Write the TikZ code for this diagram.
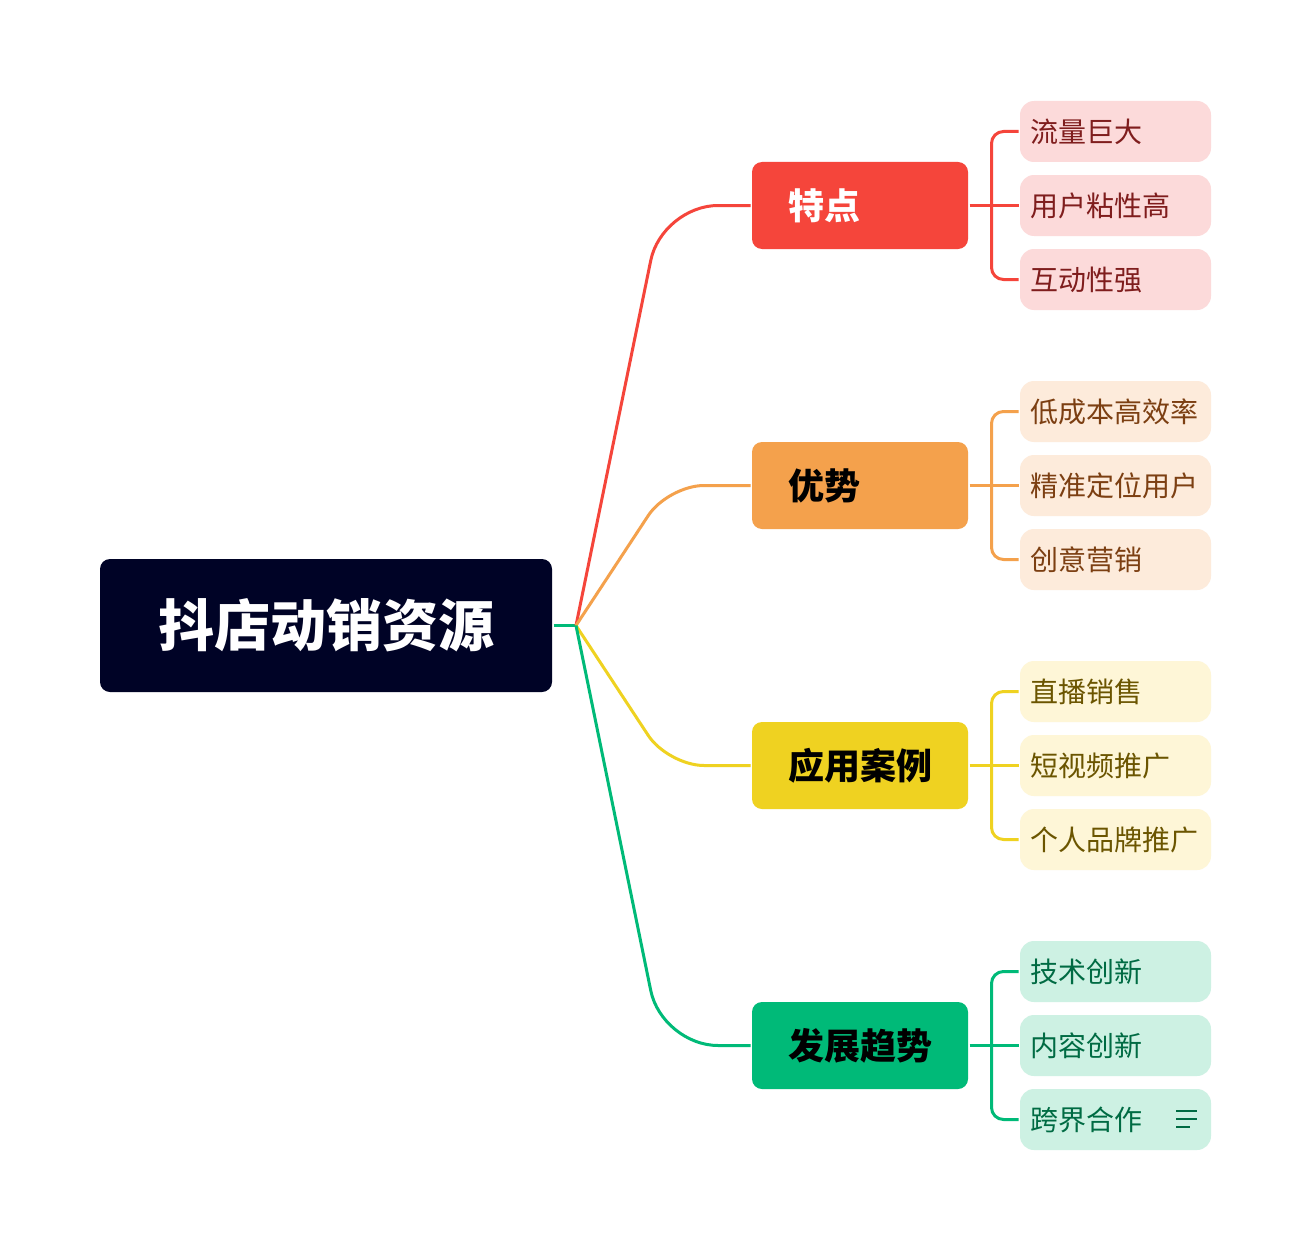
\documentclass[tikz,border=0pt]{standalone}
\usepackage{fontspec}
\setmainfont{Noto Sans CJK SC}
\usetikzlibrary{positioning}

\definecolor{wurzel}{HTML}{000326}
\definecolor{rot}{HTML}{F5453B}
\definecolor{orange}{HTML}{F4A14C}
\definecolor{gelb}{HTML}{EFD221}
\definecolor{gruen}{HTML}{00BA78}
\definecolor{rothell}{HTML}{FCDADA}
\definecolor{orangehell}{HTML}{FDEBDB}
\definecolor{gelbhell}{HTML}{FEF6D7}
\definecolor{gruenhell}{HTML}{CDF1E3}
\definecolor{rottext}{HTML}{7F1D1D}
\definecolor{orangetext}{HTML}{7C3F12}
\definecolor{gelbtext}{HTML}{6B5500}
\definecolor{gruentext}{HTML}{006B43}

\begin{document}
\begin{tikzpicture}
		[
		x=0.5pt, y=-0.5pt, line width=1.5pt, >=latex,
		%Voreinstellung für Knoten
		wurzelbox/.style={fill=wurzel, text=white, rounded corners=5pt, minimum width=226pt, minimum height=66.5pt, inner sep=0pt, font=\fontsize{28}{30}\selectfont\bfseries},
		astbox/.style={rounded corners=5pt, minimum width=108pt, minimum height=43.5pt, text width=72pt, inner xsep=18pt, inner ysep=0pt, align=left, font=\fontsize{18}{20}\selectfont\bfseries},
		blattbox/.style={rounded corners=7pt, minimum height=30.5pt, text width=85pt, inner xsep=5.25pt, inner ysep=0pt, align=left, font=\fontsize{14}{16}\selectfont}
		]
		
		%Hintergrund
		\useasboundingbox[fill=white] (0,0) rectangle (1312,1252);
		
		%Wurzel
		\node[wurzelbox] (wurzel) at (326,625.5) {抖店动销资源};
		\coordinate (nabe) at (576,625.5);
		\draw[gruen] (wurzel.east) -- (nabe);
		
		%Ast 1
		\node[astbox, fill=rot, text=white] (ast1) at (860,205.5) {特点};
		\node[blattbox, fill=rothell, text=rottext] (blatt11) at (1115.5,131.5) {流量巨大};
		\node[blattbox, fill=rothell, text=rottext] (blatt12) at (1115.5,205.5) {用户粘性高};
		\node[blattbox, fill=rothell, text=rottext] (blatt13) at (1115.5,279.5) {互动性强};
		\coordinate (ecke1) at (662,205.5);
		\draw[rot, rounded corners=28pt] (nabe) -- (ecke1) -- (ast1.west);
		\draw[rot] (ast1.east) -- (blatt12.west);
		\draw[rot, rounded corners=6pt] (blatt11.west) -- ++(-27,0) |- (blatt13.west);
		
		%Ast 2
		\node[astbox, fill=orange, text=black] (ast2) at (860,485.5) {优势};
		\node[blattbox, fill=orangehell, text=orangetext] (blatt21) at (1115.5,411.5) {低成本高效率};
		\node[blattbox, fill=orangehell, text=orangetext] (blatt22) at (1115.5,485.5) {精准定位用户};
		\node[blattbox, fill=orangehell, text=orangetext] (blatt23) at (1115.5,559.5) {创意营销};
		\coordinate (ecke2) at (668,485.5);
		\draw[orange, rounded corners=18pt] (nabe) -- (ecke2) -- (ast2.west);
		\draw[orange] (ast2.east) -- (blatt22.west);
		\draw[orange, rounded corners=6pt] (blatt21.west) -- ++(-27,0) |- (blatt23.west);
		
		%Ast 3
		\node[astbox, fill=gelb, text=black] (ast3) at (860,765.5) {应用案例};
		\node[blattbox, fill=gelbhell, text=gelbtext] (blatt31) at (1115.5,691.5) {直播销售};
		\node[blattbox, fill=gelbhell, text=gelbtext] (blatt32) at (1115.5,765.5) {短视频推广};
		\node[blattbox, fill=gelbhell, text=gelbtext] (blatt33) at (1115.5,839.5) {个人品牌推广};
		\coordinate (ecke3) at (668,765.5);
		\draw[gelb, rounded corners=18pt] (nabe) -- (ecke3) -- (ast3.west);
		\draw[gelb] (ast3.east) -- (blatt32.west);
		\draw[gelb, rounded corners=6pt] (blatt31.west) -- ++(-27,0) |- (blatt33.west);
		
		%Ast 4
		\node[astbox, fill=gruen, text=black] (ast4) at (860,1045.5) {发展趋势};
		\node[blattbox, fill=gruenhell, text=gruentext] (blatt41) at (1115.5,971.5) {技术创新};
		\node[blattbox, fill=gruenhell, text=gruentext] (blatt42) at (1115.5,1045.5) {内容创新};
		\node[blattbox, fill=gruenhell, text=gruentext] (blatt43) at (1115.5,1119.5) {跨界合作};
		\coordinate (ecke4) at (662,1045.5);
		\draw[gruen, rounded corners=28pt] (nabe) -- (ecke4) -- (ast4.west);
		\draw[gruen] (ast4.east) -- (blatt42.west);
		\draw[gruen, rounded corners=6pt] (blatt41.west) -- ++(-27,0) |- (blatt43.west);
		
		%Notiz-Symbol
		\draw[gruentext, line width=0.9pt] (1176,1111) -- ++(21,0) (1176,1119) -- ++(21,0) (1176,1127) -- ++(14,0);
		
	\end{tikzpicture}
\end{document}
